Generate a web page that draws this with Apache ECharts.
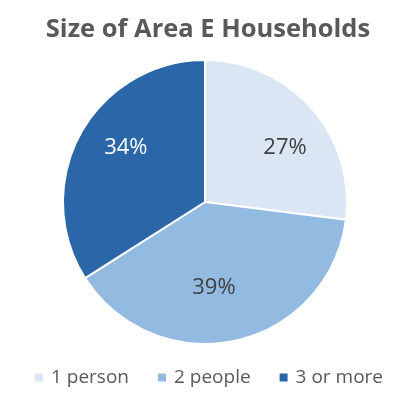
<!DOCTYPE html>
<html><head><meta charset="utf-8">
<script src="https://cdn.jsdelivr.net/npm/echarts@6/dist/echarts.min.js"></script>
<style>html,body{margin:0;padding:0;background:#fff}#c{width:416px;height:401px}</style>
</head><body><div id="c"></div>
<script>
var categories = ['1 person', '2 people', '3 or more'];
var shares = [27, 39, 34];
var colors = ['#DAE6F4', '#93BAE0', '#2B66A8'];
var labelColors = ['#404040', '#404040', '#FFFFFF'];
var labelOffsets = [[8, 9], [-12, -8], [5, -8]];
var title = 'Size of Area E Households';

var data = categories.map(function (c, i) {
  return { name: c, value: shares[i], itemStyle: { color: colors[i] } };
});
var labelData = categories.map(function (c, i) {
  return { name: c, value: shares[i], label: { color: labelColors[i], offset: labelOffsets[i] } };
});

var chart = echarts.init(document.getElementById('c'), null, { renderer: 'canvas' });
chart.setOption({
  animation: false,
  backgroundColor: '#fff',
  title: {
    text: title, left: 'center', top: 12,
    textStyle: { fontFamily: 'Open Sans', fontWeight: 'bold', fontSize: 25.5, color: '#595959' }
  },
  legend: {
    bottom: 9, left: 'center', icon: 'rect', itemWidth: 10, itemHeight: 10, itemGap: 27,
    data: categories,
    textStyle: { fontFamily: 'Open Sans', fontSize: 19, color: '#595959', padding: [0, 0, 0, 2] }
  },
  series: [{
    type: 'pie', center: [205, 202], radius: 142, startAngle: 90, clockwise: true,
    data: data, label: { show: false }, labelLine: { show: false },
    itemStyle: { borderColor: '#fff', borderWidth: 2 }, emphasis: { disabled: true }
  }, {
    type: 'pie', center: [205, 202], radius: 186, startAngle: 90, clockwise: true,
    data: labelData, silent: true, legendHoverLink: false,
    itemStyle: { color: 'rgba(0,0,0,0)', borderWidth: 0 },
    label: { show: true, position: 'inside', formatter: '{c}%', fontFamily: 'Open Sans', fontSize: 22 },
    labelLine: { show: false }, emphasis: { disabled: true }
  }]
});
</script></body></html>
